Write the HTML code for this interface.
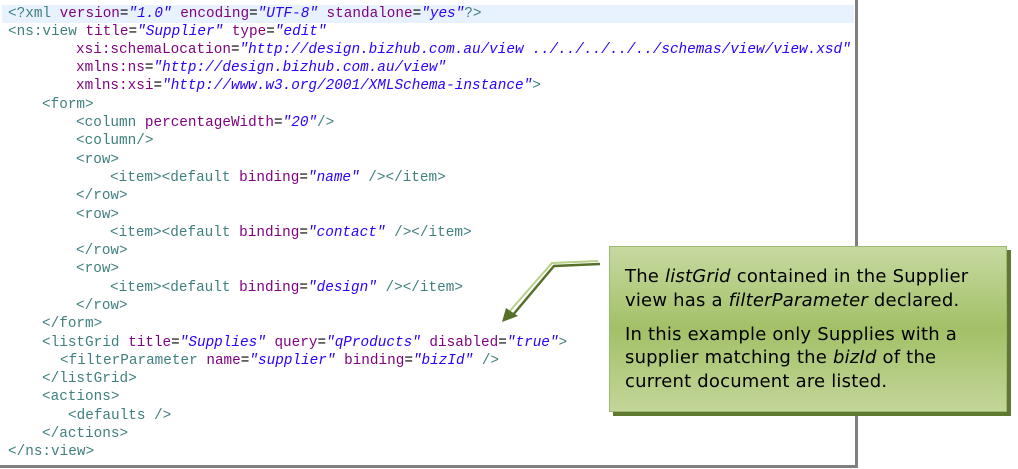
<!DOCTYPE html>
<html><head><meta charset="utf-8"><style>
body{margin:0;width:1018px;height:469px;background:#fff;position:relative;overflow:hidden}
.ed{position:absolute;left:0;top:0;width:855px;height:465px;border-right:3px solid #808080;border-bottom:3px solid #808080;background:#fff}
.l{position:absolute;white-space:pre;font-family:"Liberation Mono",monospace;font-size:14.35px;line-height:18px;color:#000}
.t{color:#3f7f7f}.a{color:#7f007f}.v{color:#2a00ff;font-style:italic}
.hl{position:absolute;left:2px;top:5px;width:852px;height:18px;background:#e8f2fe}
.box{position:absolute;left:609px;top:246px;width:396px;height:164px;border:1px solid #9fb870;box-shadow:4px 4px 0 #5f7a2e;background:linear-gradient(#c6d9a0,#a3c067 50%,#c3d699)}
.tx{position:absolute;left:625px;font-family:"DejaVu Sans","Liberation Sans",sans-serif;font-size:18px;letter-spacing:0.2px;color:#000;white-space:nowrap}
</style></head><body>
<div class="ed"><div class="hl"></div></div>
<div class="l" style="left:8px;top:5px"><span class="t">&lt;?xml</span> <span class="a">version</span>=<span class="v">"1.0"</span> <span class="a">encoding</span>=<span class="v">"UTF-8"</span> <span class="a">standalone</span>=<span class="v">"yes"</span><span class="t">?&gt;</span></div>
<div class="l" style="left:8px;top:23px"><span class="t">&lt;ns:view</span> <span class="a">title</span>=<span class="v">"Supplier"</span> <span class="a">type</span>=<span class="v">"edit"</span></div>
<div class="l" style="left:76px;top:41px"><span class="a">xsi:schemaLocation</span>=<span class="v">"http://design.bizhub.com.au/view ../../../../../schemas/view/view.xsd"</span></div>
<div class="l" style="left:76px;top:59px"><span class="a">xmlns:ns</span>=<span class="v">"http://design.bizhub.com.au/view"</span></div>
<div class="l" style="left:76px;top:77px"><span class="a">xmlns:xsi</span>=<span class="v">"http://www.w3.org/2001/XMLSchema-instance"</span><span class="t">&gt;</span></div>
<div class="l" style="left:42px;top:96px"><span class="t">&lt;form&gt;</span></div>
<div class="l" style="left:76px;top:114px"><span class="t">&lt;column</span> <span class="a">percentageWidth</span>=<span class="v">"20"</span><span class="t">/&gt;</span></div>
<div class="l" style="left:76px;top:132px"><span class="t">&lt;column/&gt;</span></div>
<div class="l" style="left:76px;top:151px"><span class="t">&lt;row&gt;</span></div>
<div class="l" style="left:110px;top:169px"><span class="t">&lt;item&gt;&lt;default</span> <span class="a">binding</span>=<span class="v">"name"</span> <span class="t">/&gt;&lt;/item&gt;</span></div>
<div class="l" style="left:76px;top:187px"><span class="t">&lt;/row&gt;</span></div>
<div class="l" style="left:76px;top:206px"><span class="t">&lt;row&gt;</span></div>
<div class="l" style="left:110px;top:224px"><span class="t">&lt;item&gt;&lt;default</span> <span class="a">binding</span>=<span class="v">"contact"</span> <span class="t">/&gt;&lt;/item&gt;</span></div>
<div class="l" style="left:76px;top:242px"><span class="t">&lt;/row&gt;</span></div>
<div class="l" style="left:76px;top:260px"><span class="t">&lt;row&gt;</span></div>
<div class="l" style="left:110px;top:279px"><span class="t">&lt;item&gt;&lt;default</span> <span class="a">binding</span>=<span class="v">"design"</span> <span class="t">/&gt;&lt;/item&gt;</span></div>
<div class="l" style="left:76px;top:297px"><span class="t">&lt;/row&gt;</span></div>
<div class="l" style="left:42px;top:315px"><span class="t">&lt;/form&gt;</span></div>
<div class="l" style="left:42px;top:334px"><span class="t">&lt;listGrid</span> <span class="a">title</span>=<span class="v">"Supplies"</span> <span class="a">query</span>=<span class="v">"qProducts"</span> <span class="a">disabled</span>=<span class="v">"true"</span><span class="t">&gt;</span></div>
<div class="l" style="left:60px;top:352px"><span class="t">&lt;filterParameter</span> <span class="a">name</span>=<span class="v">"supplier"</span> <span class="a">binding</span>=<span class="v">"bizId"</span> <span class="t">/&gt;</span></div>
<div class="l" style="left:42px;top:370px"><span class="t">&lt;/listGrid&gt;</span></div>
<div class="l" style="left:42px;top:388px"><span class="t">&lt;actions&gt;</span></div>
<div class="l" style="left:68px;top:407px"><span class="t">&lt;defaults /&gt;</span></div>
<div class="l" style="left:42px;top:425px"><span class="t">&lt;/actions&gt;</span></div>
<div class="l" style="left:8px;top:443px"><span class="t">&lt;/ns:view&gt;</span></div>
<svg style="position:absolute;left:0;top:0" width="1018" height="469">
<polyline points="600,264 554,266 512,316" fill="none" stroke="#56702a" stroke-width="2.5"/>
<polyline points="598,261 552,263 508,313" fill="none" stroke="#b7d08a" stroke-width="2"/>
<polygon points="502,322 506,308 518,316" fill="#56702a"/>
</svg>
<div class="box"></div>
<div class="tx" style="top:266px">The <i>listGrid</i> contained in the Supplier</div>
<div class="tx" style="top:290px">view has a <i>filterParameter</i> declared.</div>
<div class="tx" style="top:324px">In this example only Supplies with a</div>
<div class="tx" style="top:347px">supplier matching the <i>bizId</i> of the</div>
<div class="tx" style="top:371px">current document are listed.</div>
</body></html>
